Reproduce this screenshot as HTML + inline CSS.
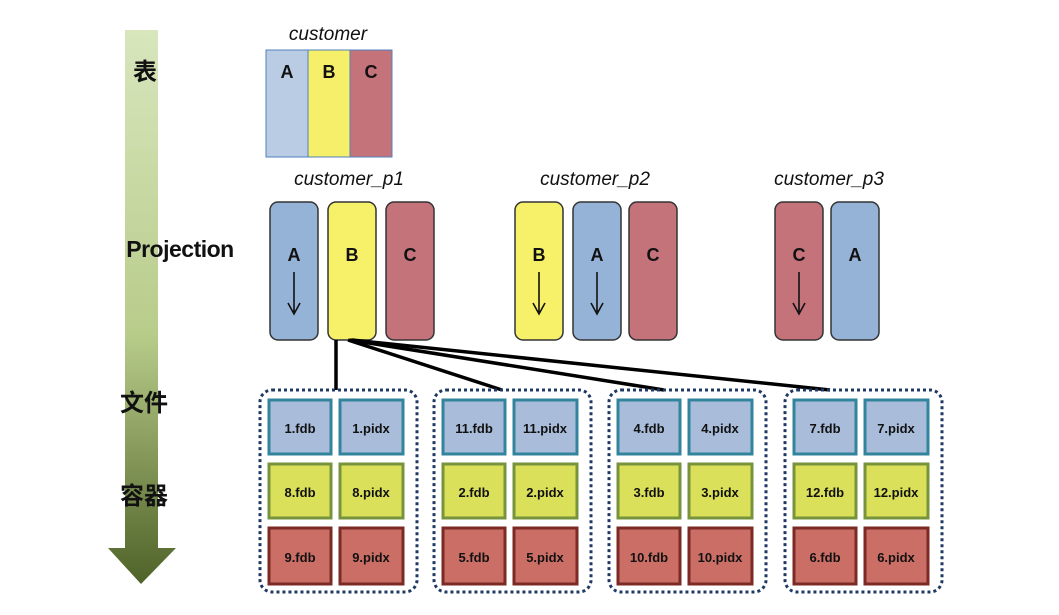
<!DOCTYPE html>
<html><head><meta charset="utf-8"><style>
html,body{margin:0;padding:0;background:#fff;}
svg{display:block}
.t{font-family:"Liberation Sans","Noto Sans CJK SC",sans-serif;font-weight:bold;fill:#111}
.i{font-family:"Liberation Sans",sans-serif;font-style:italic;font-size:19px;fill:#111}
</style></head><body>
<svg width="1059" height="615" viewBox="0 0 1059 615" xmlns="http://www.w3.org/2000/svg">
<defs>
<linearGradient id="g" x1="0" y1="0" x2="0" y2="1">
<stop offset="0" stop-color="#d8e6bd"/><stop offset="0.55" stop-color="#b8cc8a"/><stop offset="1" stop-color="#4f6228"/>
</linearGradient>
</defs>
<path d="M125 30 H158 V548 H176 L141 584 L108 548 H125 Z" fill="url(#g)"/>
<text class="t" x="145" y="80" font-size="24" text-anchor="middle">表</text>
<text class="t" x="180" y="257" font-size="23" text-anchor="middle" letter-spacing="-0.5">Projection</text>
<text class="t" x="144" y="411" font-size="24" text-anchor="middle">文件</text>
<text class="t" x="144" y="504" font-size="24" text-anchor="middle">容器</text>

<text class="i" x="328" y="40" text-anchor="middle">customer</text>
<rect x="266" y="50" width="42" height="107" fill="#b9cce4" stroke="#4f81bd"/>
<rect x="308" y="50" width="42" height="107" fill="#f5ef6a" stroke="#4f81bd"/>
<rect x="350" y="50" width="42" height="107" fill="#c4737b" stroke="#4f81bd"/>
<text class="t" x="287" y="78" font-size="18" text-anchor="middle">A</text>
<text class="t" x="329" y="78" font-size="18" text-anchor="middle">B</text>
<text class="t" x="371" y="78" font-size="18" text-anchor="middle">C</text>

<text class="i" x="349" y="185" text-anchor="middle">customer_p1</text>
<text class="i" x="595" y="185" text-anchor="middle">customer_p2</text>
<text class="i" x="829" y="185" text-anchor="middle">customer_p3</text>

<g stroke="#333" stroke-width="1.5">
<rect x="270" y="202" width="48" height="138" rx="8" fill="#95b3d7"/>
<rect x="328" y="202" width="48" height="138" rx="8" fill="#f7f16a"/>
<rect x="386" y="202" width="48" height="138" rx="8" fill="#c4737b"/>
<rect x="515" y="202" width="48" height="138" rx="8" fill="#f7f16a"/>
<rect x="573" y="202" width="48" height="138" rx="8" fill="#95b3d7"/>
<rect x="629" y="202" width="48" height="138" rx="8" fill="#c4737b"/>
<rect x="775" y="202" width="48" height="138" rx="8" fill="#c4737b"/>
<rect x="831" y="202" width="48" height="138" rx="8" fill="#95b3d7"/>
</g>
<g class="t" font-size="18" text-anchor="middle">
<text x="294" y="261">A</text><text x="352" y="261">B</text><text x="410" y="261">C</text>
<text x="539" y="261">B</text><text x="597" y="261">A</text><text x="653" y="261">C</text>
<text x="799" y="261">C</text><text x="855" y="261">A</text>
</g>
<g stroke="#111" stroke-width="1.6" fill="none">
<path d="M294 272 V312 M288 303 L294 314 L300 303"/>
<path d="M539 272 V312 M533 303 L539 314 L545 303"/>
<path d="M597 272 V312 M591 303 L597 314 L603 303"/>
<path d="M799 272 V312 M793 303 L799 314 L805 303"/>
</g>
<g stroke="#000" stroke-width="3.5">
<line x1="336" y1="340" x2="336" y2="390"/>
<line x1="348" y1="340" x2="502" y2="390"/>
<line x1="350" y1="340" x2="664" y2="390"/>
<line x1="352" y1="340" x2="830" y2="390"/>
</g>

<g stroke="#1f3864" stroke-width="3" stroke-dasharray="3 3" fill="none">
<rect x="260" y="390" width="157" height="202" rx="12"/>
<rect x="434" y="390" width="157" height="202" rx="12"/>
<rect x="609" y="390" width="157" height="202" rx="12"/>
<rect x="785" y="390" width="157" height="202" rx="12"/>
</g>
<g stroke-width="3">
<g fill="#a9bcd9" stroke="#31849b">
<rect x="269" y="400" width="62" height="54"/><rect x="340" y="400" width="63" height="54"/>
<rect x="443" y="400" width="62" height="54"/><rect x="514" y="400" width="63" height="54"/>
<rect x="618" y="400" width="62" height="54"/><rect x="689" y="400" width="63" height="54"/>
<rect x="794" y="400" width="62" height="54"/><rect x="865" y="400" width="63" height="54"/>
</g>
<g fill="#dbe05a" stroke="#77933c">
<rect x="269" y="464" width="62" height="54"/><rect x="340" y="464" width="63" height="54"/>
<rect x="443" y="464" width="62" height="54"/><rect x="514" y="464" width="63" height="54"/>
<rect x="618" y="464" width="62" height="54"/><rect x="689" y="464" width="63" height="54"/>
<rect x="794" y="464" width="62" height="54"/><rect x="865" y="464" width="63" height="54"/>
</g>
<g fill="#cb6e66" stroke="#7b2a24">
<rect x="269" y="528" width="62" height="56"/><rect x="340" y="528" width="63" height="56"/>
<rect x="443" y="528" width="62" height="56"/><rect x="514" y="528" width="63" height="56"/>
<rect x="618" y="528" width="62" height="56"/><rect x="689" y="528" width="63" height="56"/>
<rect x="794" y="528" width="62" height="56"/><rect x="865" y="528" width="63" height="56"/>
</g>
</g>
<g class="t" font-size="13" text-anchor="middle">
<text x="300" y="433">1.fdb</text><text x="371" y="433">1.pidx</text>
<text x="474" y="433">11.fdb</text><text x="545" y="433">11.pidx</text>
<text x="649" y="433">4.fdb</text><text x="720" y="433">4.pidx</text>
<text x="825" y="433">7.fdb</text><text x="896" y="433">7.pidx</text>
<text x="300" y="497">8.fdb</text><text x="371" y="497">8.pidx</text>
<text x="474" y="497">2.fdb</text><text x="545" y="497">2.pidx</text>
<text x="649" y="497">3.fdb</text><text x="720" y="497">3.pidx</text>
<text x="825" y="497">12.fdb</text><text x="896" y="497">12.pidx</text>
<text x="300" y="562">9.fdb</text><text x="371" y="562">9.pidx</text>
<text x="474" y="562">5.fdb</text><text x="545" y="562">5.pidx</text>
<text x="649" y="562">10.fdb</text><text x="720" y="562">10.pidx</text>
<text x="825" y="562">6.fdb</text><text x="896" y="562">6.pidx</text>
</g>
</svg>
</body></html>
